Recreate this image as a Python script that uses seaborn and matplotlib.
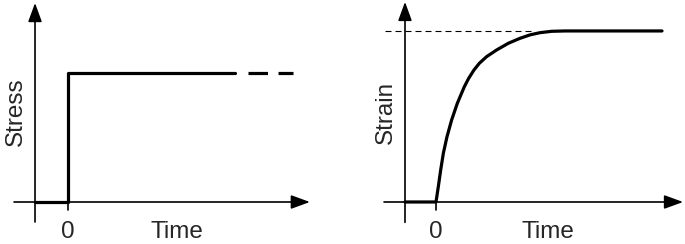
import matplotlib
matplotlib.use("Agg")
import matplotlib.pyplot as plt
import seaborn as sns


# ------------------------------------------------------------
# Creep test sketch: step stress input and strain response
# ------------------------------------------------------------

# step input (time in arbitrary units, stress normalised to 1)
stress_time = [-1.0, 0.0, 0.0, 5.06]
stress_values = [0.0, 0.0, 1.0, 1.0]
stress_dash_time = [5.46, 6.83]
stress_dash_values = [1.0, 1.0]

# strain response
strain_time = [-1.0, 0.0, 0.075, 0.151, 0.237, 0.355, 0.505, 0.688, 0.914,
               1.054, 1.226, 1.398, 1.634, 1.957, 2.333, 2.71, 3.032, 3.355,
               3.731, 4.161, 7.29]
strain_values = [0.0, 0.0, 0.09, 0.187, 0.285, 0.382, 0.48, 0.577, 0.674,
                 0.723, 0.772, 0.811, 0.85, 0.889, 0.928, 0.957, 0.977, 0.99,
                 0.998, 1.0, 1.0]
asymptote_time = [-1.65, 3.13]
asymptote_values = [1.0, 1.0]

y_labels = ["Stress", "Strain"]
x_label = "Time"
zero_label = "0"


sns.set_theme(style="white")
plt.rcParams["font.family"] = ["Liberation Sans", "DejaVu Sans"]

LINE_W = 2.3
AXIS_W = 1.2
FONT_SIZE = 17.5


def draw_axes(ax, x_range, y_range, tick_len):
    """Draw the arrowed time and value axes that cross at t = -1."""
    arrow = dict(arrowstyle="-|>,head_length=1.15,head_width=0.42",
                 mutation_scale=10, lw=AXIS_W, color="black",
                 shrinkA=0, shrinkB=0)
    ax.annotate("", xy=(x_range[1], 0), xytext=(x_range[0], 0), arrowprops=arrow)
    ax.annotate("", xy=(-1, y_range[1]), xytext=(-1, y_range[0]), arrowprops=arrow)
    ax.plot([0, 0], [0, -tick_len], color="black", lw=AXIS_W)


def label_panel(ax, y_label, label_x, label_y, text_y, time_x):
    ax.text(label_x, label_y, y_label, rotation=90, rotation_mode="anchor",
            ha="center", va="baseline", fontsize=FONT_SIZE)
    ax.text(0, text_y, zero_label, ha="center", va="baseline", fontsize=FONT_SIZE)
    ax.text(time_x, text_y, x_label, ha="center", va="baseline", fontsize=FONT_SIZE)


fig = plt.figure(figsize=(6.85, 2.44), dpi=100)
ax_stress = fig.add_axes([0, 0, 0.5, 1])
ax_strain = fig.add_axes([0.5, 0, 0.5, 1])

# left panel: stress step
ax_stress.set_xlim(-2.061, 8.318)
ax_stress.set_ylim(-0.3256, 1.566)
draw_axes(ax_stress, (-1.636, 7.33), (-0.155, 1.543), 0.062)
sns.lineplot(x=stress_time, y=stress_values, ax=ax_stress, estimator=None,
             sort=False, color="black", lw=LINE_W)
sns.lineplot(x=stress_dash_time, y=stress_dash_values, ax=ax_stress,
             estimator=None, sort=False, color="black", lw=LINE_W,
             linestyle=(0, (6.1, 3.3)))
label_panel(ax_stress, y_labels[0], -1.394, 0.698, -0.279, 3.30)

# right panel: strain response
ax_strain.set_xlim(-3.016, 8.032)
ax_strain.set_ylim(-0.2456, 1.181)
draw_axes(ax_strain, (-1.677, 7.97), (-0.119, 1.17), 0.047)
sns.lineplot(x=asymptote_time, y=asymptote_values, ax=ax_strain,
             estimator=None, sort=False, color="black", lw=0.8,
             linestyle=(0, (5.4, 3.6)))
sns.lineplot(x=strain_time, y=strain_values, ax=ax_strain, estimator=None,
             sort=False, color="black", lw=LINE_W)
label_panel(ax_strain, y_labels[1], -1.419, 0.526, -0.2105, 3.597)

for ax in (ax_stress, ax_strain):
    ax.axis("off")

fig.savefig("out.png", dpi=100, facecolor="white")
